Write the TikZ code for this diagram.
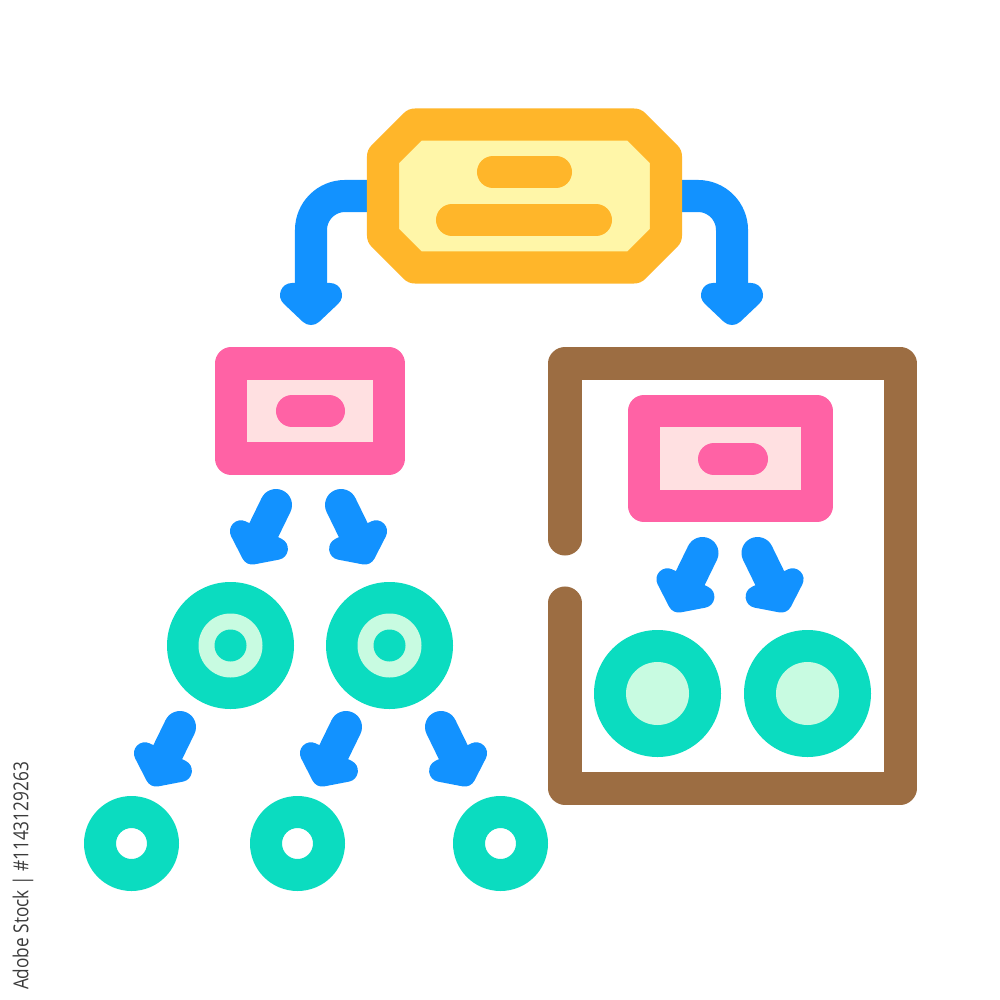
\documentclass[tikz,border=0pt]{standalone}
\usepackage{fontspec}
\setsansfont{Open Sans}
\definecolor{orng}{HTML}{FFB62A}
\definecolor{lyel}{HTML}{FFF6A8}
\definecolor{blu}{HTML}{1292FF}
\definecolor{pnk}{HTML}{FF62A5}
\definecolor{lpnk}{HTML}{FFE0E1}
\definecolor{tealc}{HTML}{0BDCC0}
\definecolor{mint}{HTML}{C8FBE1}
\definecolor{brwn}{HTML}{9C6D42}
\definecolor{wmgray}{HTML}{3C3C3C}
\tikzset{
  shaft/.style={draw=blu, line width=0.32cm, line cap=round},
  bighead/.style={fill=blu, draw=blu, line width=0.24cm, line join=round},
  smallhead/.style={fill=blu, draw=blu, line width=0.22cm, line join=round},
  boxline/.style={line width=0.32cm, line join=round},
  bar/.style={line width=0.32cm, line cap=round},
}
% #1,#2 tail centre, #3 rotation (negative = down-left)
\newcommand\smallarrow[3]{%
  \begin{scope}[shift={(#1,#2)}, rotate=#3]
    \draw[shaft] (0,0) -- (0,30);
    \fill[blu] (-20,39) -- (20,39) -- (0,54) -- cycle;
    \draw[smallhead] (-20,39) -- (20,39) -- (0,54) -- cycle;
  \end{scope}}
\begin{document}
\begin{tikzpicture}[x=0.01cm,y=-0.01cm]
\useasboundingbox (0,0) rectangle (1000,1000);
\fill[white] (0,0) rectangle (1000,1000);

% big arrows from the top block
\coordinate (lcorner) at (311,196);
\coordinate (rcorner) at (732,196);
\draw[shaft, rounded corners=0.34cm] (400,196) -- (lcorner) -- (311,296);
\fill[blu] (292,295) -- (330,295) -- (311,313) -- cycle;
\draw[bighead] (292,295) -- (330,295) -- (311,313) -- cycle;
\draw[shaft, rounded corners=0.34cm] (650,196) -- (rcorner) -- (732,296);
\fill[blu] (713,295) -- (751,295) -- (732,313) -- cycle;
\draw[bighead] (713,295) -- (751,295) -- (732,313) -- cycle;

% top octagon block
\filldraw[boxline, fill=lyel, draw=orng]
  (415,124.5) -- (634,124.5) -- (666,156.5) -- (666,235.5) -- (634,267.5)
  -- (415,267.5) -- (383,235.5) -- (383,156.5) -- cycle;
\draw[bar, orng] (493,172) -- (556,172);
\draw[bar, orng] (452,220) -- (596,220);

% left pink box
\filldraw[boxline, fill=lpnk, draw=pnk] (231,363.5) rectangle (389,458.5);
\draw[bar, pnk] (292,411) -- (329,411);

% brown frame
\draw[brwn, line width=0.33cm, line cap=round, line join=round]
  (565,539) -- (565,363.5) -- (900,363.5) -- (900,788) -- (565,788) -- (565,603);

% right pink box
\filldraw[boxline, fill=lpnk, draw=pnk] (644,411) rectangle (817,506);
\draw[bar, pnk] (714,459) -- (752,459);

% small arrows
\smallarrow{276}{505}{-26}
\smallarrow{341}{505}{26}
\smallarrow{702.5}{553}{-26}
\smallarrow{757.5}{553}{26}
\smallarrow{180}{727}{-26}
\smallarrow{346}{727}{-26}
\smallarrow{441}{727}{26}

% middle circles (left)
\foreach \cx in {230.5,389.5}{
  \fill[tealc] (\cx,645.5) circle (63.5);
  \fill[mint] (\cx,645.5) circle (32);
  \fill[tealc] (\cx,645.5) circle (16);
}
% circles in frame
\foreach \cx in {657.5,807.5}{
  \fill[tealc] (\cx,693.5) circle (63.5);
  \fill[mint] (\cx,693.5) circle (31.5);
}
% bottom rings
\foreach \cx in {131.5,297.5,500.5}{
  \fill[tealc, even odd rule] (\cx,843.5) circle (47.5) (\cx,843.5) circle (15.5);
}

% side text
\node[rotate=90, inner sep=0pt, text=wmgray, font=\sffamily\fontsize{4.9}{6}\selectfont] (wm) at (23,876) {\scalebox{1}[1.2]{Adobe Stock | \#1143129263}};
\end{tikzpicture}
\end{document}
